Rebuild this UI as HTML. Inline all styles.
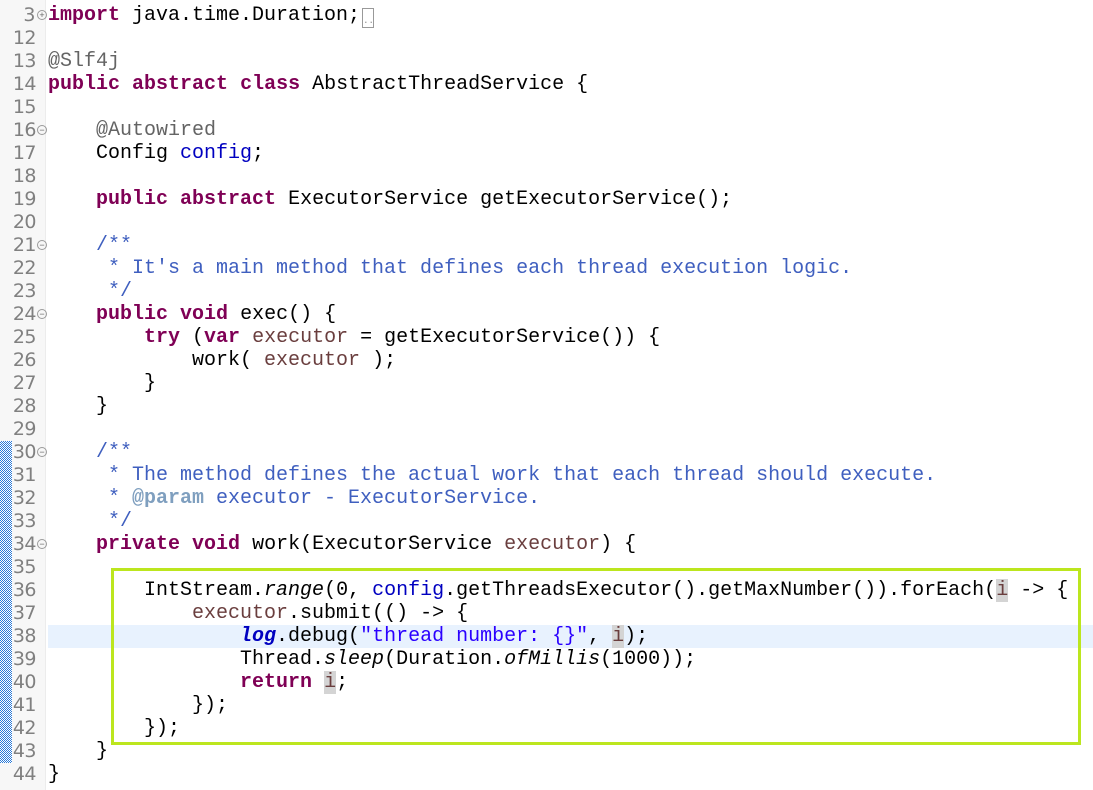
<!DOCTYPE html>
<html><head><meta charset="utf-8"><style>
html,body{margin:0;padding:0;background:#fff;width:1093px;height:790px;overflow:hidden;position:relative}
.gut{position:absolute;left:0;top:0;width:45px;height:790px;background:#f7f7f7;border-right:1px solid #ececec}
.chg{position:absolute;left:0;top:441px;width:12px;height:322px;background:repeating-conic-gradient(#2a7ad8 0 25%,#fff 0 50%) 0 0/2px 2px}
.hl{position:absolute;left:48px;top:625px;width:1045px;height:23px;background:#e8f2fe}
.box{position:absolute;left:111px;top:568px;width:964px;height:171px;border:3px solid #bce61e}
.ln{position:absolute;left:0;width:36px;text-align:right;font:19px "DejaVu Sans","Liberation Sans",sans-serif;color:#808080;height:23px;line-height:23px;letter-spacing:-0.5px}
.fold{position:absolute;left:37px;width:8px;height:8px;border:1px solid #9a9a9a;border-radius:50%;font:9px/8px "Liberation Sans",sans-serif;text-align:center;color:#666}
.c{position:absolute;left:48px;white-space:pre;font:20px "Liberation Mono",monospace;height:23px;line-height:23px;color:#000}
.k{color:#7f0055;font-weight:bold}
.cm{color:#3f5fbf}
.cp{color:#7f9fbf;font-weight:bold}
.f{color:#0000c0}
.a{color:#646464}
.v{color:#6a3e3e}
.s{color:#2a00ff}
.m{background:#d4d4d4}
.i{font-style:italic}
.sf{color:#0000c0;font-style:italic;font-weight:bold}
.dots{display:inline-block;width:10px;height:18px;border:1px solid #999;vertical-align:-3px;margin-left:2px;font-size:9px;line-height:24px;text-align:center;color:#888}
</style></head><body>
<div class="gut"></div>
<div class="chg"></div>
<div class="hl"></div>
<div class="box"></div>

<div class="ln" style="top:4px;width:35px">3</div><div class="fold" style="top:10px">+</div>
<div class="ln" style="top:27px">12</div>
<div class="ln" style="top:50px">13</div>
<div class="ln" style="top:73px">14</div>
<div class="ln" style="top:96px">15</div>
<div class="ln" style="top:119px">16</div><div class="fold" style="top:125px">−</div>
<div class="ln" style="top:142px">17</div>
<div class="ln" style="top:165px">18</div>
<div class="ln" style="top:188px">19</div>
<div class="ln" style="top:211px">20</div>
<div class="ln" style="top:234px">21</div><div class="fold" style="top:240px">−</div>
<div class="ln" style="top:257px">22</div>
<div class="ln" style="top:280px">23</div>
<div class="ln" style="top:303px">24</div><div class="fold" style="top:309px">−</div>
<div class="ln" style="top:326px">25</div>
<div class="ln" style="top:349px">26</div>
<div class="ln" style="top:372px">27</div>
<div class="ln" style="top:395px">28</div>
<div class="ln" style="top:418px">29</div>
<div class="ln" style="top:441px">30</div><div class="fold" style="top:447px">−</div>
<div class="ln" style="top:464px">31</div>
<div class="ln" style="top:487px">32</div>
<div class="ln" style="top:510px">33</div>
<div class="ln" style="top:533px">34</div><div class="fold" style="top:539px">−</div>
<div class="ln" style="top:556px">35</div>
<div class="ln" style="top:579px">36</div>
<div class="ln" style="top:602px">37</div>
<div class="ln" style="top:625px">38</div>
<div class="ln" style="top:648px">39</div>
<div class="ln" style="top:671px">40</div>
<div class="ln" style="top:694px">41</div>
<div class="ln" style="top:717px">42</div>
<div class="ln" style="top:740px">43</div>
<div class="ln" style="top:763px">44</div>

<div class="c" style="top:4px"><span class="k">import</span> java.time.Duration;<span class="dots">..</span></div>
<div class="c" style="top:50px"><span class="a">@Slf4j</span></div>
<div class="c" style="top:73px"><span class="k">public</span> <span class="k">abstract</span> <span class="k">class</span> AbstractThreadService {</div>
<div class="c" style="top:119px">    <span class="a">@Autowired</span></div>
<div class="c" style="top:142px">    Config <span class="f">config</span>;</div>
<div class="c" style="top:188px">    <span class="k">public</span> <span class="k">abstract</span> ExecutorService getExecutorService();</div>
<div class="c" style="top:234px"><span class="cm">    /**</span></div>
<div class="c" style="top:257px"><span class="cm">     * It's a main method that defines each thread execution logic.</span></div>
<div class="c" style="top:280px"><span class="cm">     */</span></div>
<div class="c" style="top:303px">    <span class="k">public</span> <span class="k">void</span> exec() {</div>
<div class="c" style="top:326px">        <span class="k">try</span> (<span class="k">var</span> <span class="v">executor</span> = getExecutorService()) {</div>
<div class="c" style="top:349px">            work( <span class="v">executor</span> );</div>
<div class="c" style="top:372px">        }</div>
<div class="c" style="top:395px">    }</div>
<div class="c" style="top:441px"><span class="cm">    /**</span></div>
<div class="c" style="top:464px"><span class="cm">     * The method defines the actual work that each thread should execute.</span></div>
<div class="c" style="top:487px"><span class="cm">     * <span class="cp">@param</span> executor - ExecutorService.</span></div>
<div class="c" style="top:510px"><span class="cm">     */</span></div>
<div class="c" style="top:533px">    <span class="k">private</span> <span class="k">void</span> work(ExecutorService <span class="v">executor</span>) {</div>
<div class="c" style="top:579px">        IntStream.<span class="i">range</span>(0, <span class="f">config</span>.getThreadsExecutor().getMaxNumber()).forEach(<span class="v m">i</span> -&gt; {</div>
<div class="c" style="top:602px">            <span class="v">executor</span>.submit(() -&gt; {</div>
<div class="c" style="top:625px">                <span class="sf">log</span>.debug(<span class="s">"thread number: {}"</span>, <span class="v m">i</span>);</div>
<div class="c" style="top:648px">                Thread.<span class="i">sleep</span>(Duration.<span class="i">ofMillis</span>(1000));</div>
<div class="c" style="top:671px">                <span class="k">return</span> <span class="v m">i</span>;</div>
<div class="c" style="top:694px">            });</div>
<div class="c" style="top:717px">        });</div>
<div class="c" style="top:740px">    }</div>
<div class="c" style="top:763px">}</div>
</body></html>
